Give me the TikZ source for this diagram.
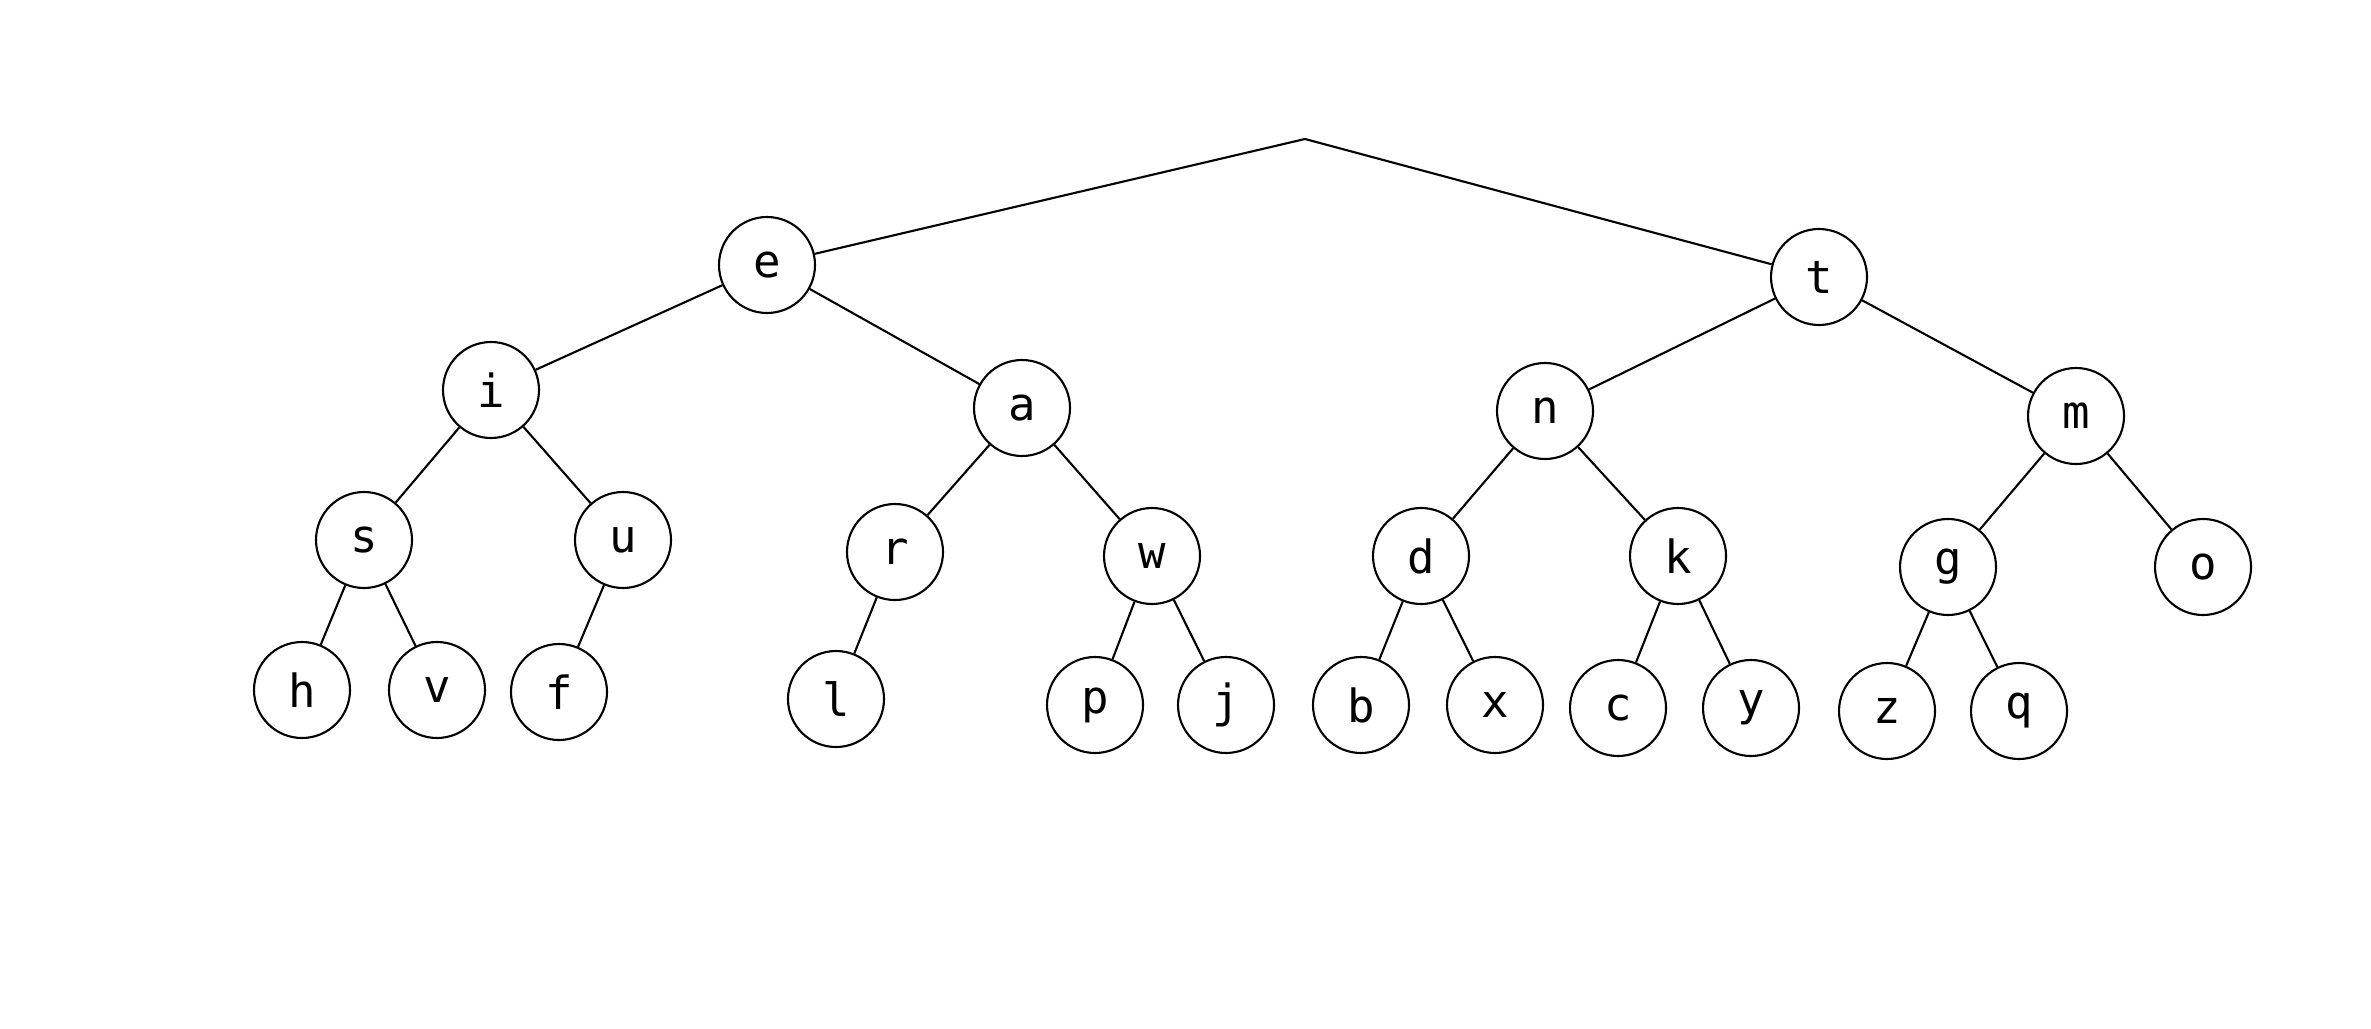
\documentclass[tikz,border=0pt]{standalone}
\usepackage{fontspec}
\setmainfont{DejaVu Sans Mono}
\begin{document}
\begin{tikzpicture}[x=1cm,y=1cm,
  letter/.style={draw, circle, minimum size=0.96cm, inner sep=0pt, line width=0.6pt, font=\fontsize{13}{15}\selectfont}]
\useasboundingbox (0,0) rectangle (23.71,-10.28);
\coordinate (root) at (13.05,-1.39);
\node[letter] (e) at (7.67,-2.65) {e};
\node[letter] (t) at (18.19,-2.77) {t};
\node[letter] (i) at (4.91,-3.90) {i};
\node[letter] (a) at (10.22,-4.08) {a};
\node[letter] (n) at (15.45,-4.11) {n};
\node[letter] (m) at (20.76,-4.16) {m};
\node[letter] (s) at (3.64,-5.40) {s};
\node[letter] (u) at (6.23,-5.40) {u};
\node[letter] (r) at (8.95,-5.52) {r};
\node[letter] (w) at (11.52,-5.56) {w};
\node[letter] (d) at (14.21,-5.56) {d};
\node[letter] (k) at (16.78,-5.56) {k};
\node[letter] (g) at (19.48,-5.67) {g};
\node[letter] (o) at (22.03,-5.67) {o};
\node[letter] (h) at (3.02,-6.90) {h};
\node[letter] (v) at (4.37,-6.90) {v};
\node[letter] (f) at (5.59,-6.92) {f};
\node[letter] (l) at (8.36,-6.99) {l};
\node[letter] (p) at (10.95,-7.05) {p};
\node[letter] (j) at (12.26,-7.05) {j};
\node[letter] (b) at (13.61,-7.05) {b};
\node[letter] (x) at (14.95,-7.05) {x};
\node[letter] (c) at (16.18,-7.08) {c};
\node[letter] (y) at (17.51,-7.08) {y};
\node[letter] (z) at (18.87,-7.11) {z};
\node[letter] (q) at (20.19,-7.11) {q};

\draw[line width=0.6pt] (e) -- (root) -- (t);
\draw[line width=0.6pt] (e) -- (i);
\draw[line width=0.6pt] (e) -- (a);
\draw[line width=0.6pt] (t) -- (n);
\draw[line width=0.6pt] (t) -- (m);
\draw[line width=0.6pt] (i) -- (s);
\draw[line width=0.6pt] (i) -- (u);
\draw[line width=0.6pt] (a) -- (r);
\draw[line width=0.6pt] (a) -- (w);
\draw[line width=0.6pt] (n) -- (d);
\draw[line width=0.6pt] (n) -- (k);
\draw[line width=0.6pt] (m) -- (g);
\draw[line width=0.6pt] (m) -- (o);
\draw[line width=0.6pt] (s) -- (h);
\draw[line width=0.6pt] (s) -- (v);
\draw[line width=0.6pt] (u) -- (f);
\draw[line width=0.6pt] (r) -- (l);
\draw[line width=0.6pt] (w) -- (p);
\draw[line width=0.6pt] (w) -- (j);
\draw[line width=0.6pt] (d) -- (b);
\draw[line width=0.6pt] (d) -- (x);
\draw[line width=0.6pt] (k) -- (c);
\draw[line width=0.6pt] (k) -- (y);
\draw[line width=0.6pt] (g) -- (z);
\draw[line width=0.6pt] (g) -- (q);

\end{tikzpicture}
\end{document}
